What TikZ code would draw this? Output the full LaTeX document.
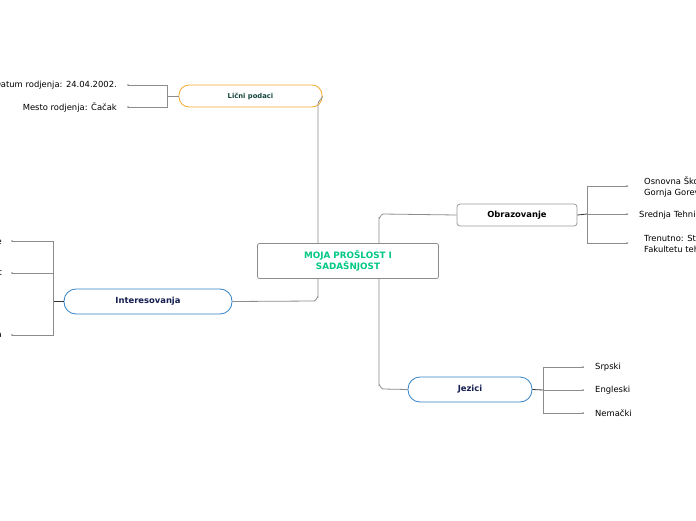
\documentclass[tikz,border=0pt]{standalone}
\usepackage{fontspec}
\setmainfont{DejaVu Sans}
\begin{document}
\begin{tikzpicture}[x=1pt,y=-1pt,
  conn/.style={draw=gray!90,line width=0.8pt},
  dotend/.style={fill=gray,draw=none,circle,inner sep=0.7pt},
  leaf/.style={font=\fontsize{8.4}{11}\selectfont,text=black,inner sep=0pt,align=left},
  topic/.style={draw,line width=0.8pt,fill=white,font=\fontsize{8.4}{9}\selectfont\bfseries,inner sep=0pt}]
\useasboundingbox (0,0) rectangle (696,520);
\clip (0,0) rectangle (696,520);
% central
\node[draw=gray!90,line width=0.8pt,rounded corners=2pt,minimum width=181pt,minimum height=35pt,align=center,
  font=\fontsize{8.8}{11}\selectfont\bfseries,text={rgb,255:red,0;green,200;blue,130},inner sep=0pt] (c) at (348,261) {MOJA PROŠLOST I\\SADAŠNJOST};
% topics
\node[topic,draw={rgb,255:red,245;green,170;blue,50},rounded corners=10pt,minimum width=143pt,minimum height=22pt,
  text={rgb,255:red,20;green,70;blue,60},font=\fontsize{6.8}{7}\selectfont\bfseries] (lp) at (250.5,96) {Lični podaci};
\node[topic,draw=gray!80,rounded corners=3pt,minimum width=120pt,minimum height=22pt,text=black] (ob) at (517,215) {Obrazovanje};
\node[topic,draw={rgb,255:red,50;green,130;blue,200},rounded corners=12pt,minimum width=168pt,minimum height=25pt,
  text={rgb,255:red,20;green,30;blue,80}] (in) at (148,301.5) {Interesovanja};
\node[topic,draw={rgb,255:red,50;green,130;blue,200},rounded corners=12pt,minimum width=124pt,minimum height=25pt,
  text={rgb,255:red,20;green,30;blue,80}] (je) at (470,389.5) {Jezici};
% central connectors
\draw[conn] (c.north -| 318,0) -- (318,104) to[out=90,in=-90] (lp.east);
\draw[conn] (c.south -| 318,0) -- (318,297) to[out=90,in=0] (314,301) -- (in.east);
\draw[conn] (c.north -| 379,0) -- (379,218) to[out=-90,in=180] (383,214) -- (ob.west);
\draw[conn] (c.south -| 379,0) -- (379,385) to[out=90,in=180] (383,389) -- (je.west);
% Licni children
\coordinate (l1) at (128,85); \coordinate (l2) at (128,107);
\draw[conn] (lp.west) -- (167,96);
\draw[conn] (l1) -- (167,85) -- (167,107) -- (l2);
\node[dotend] at (l1) {}; \node[dotend] at (l2) {};
\node[leaf,anchor=east] (t1) at (117,85) {Datum rodjenja: 24.04.2002.};
\node[leaf,anchor=east] (t2) at (117,107) {Mesto rodjenja: Čačak};
% Obrazovanje children
\coordinate (o1) at (627,186); \coordinate (o2) at (627,214); \coordinate (o3) at (627,243);
\draw[conn,draw=black!80] (ob.east) -- (587,214);
\draw[conn] (o1) -- (587,186) -- (587,243) -- (o3);
\draw[conn] (587,214) -- (o2);
\node[dotend] at (o1) {}; \node[dotend] at (o2) {}; \node[dotend] at (o3) {};
\node[leaf,anchor=west] (s1) at (644,187) {Osnovna Škola\\Gornja Gorevnica};
\node[leaf,anchor=west] (s2) at (639,215) {Srednja Tehnička škola};
\node[leaf,anchor=west] (s3) at (644,244) {Trenutno: Student na\\Fakultetu tehničkih nauka};
% Interesovanja children
\coordinate (i1) at (12,241); \coordinate (i2) at (12,273); \coordinate (i3) at (12,335);
\draw[conn,draw=black!80] (in.west) -- (53,301.5);
\draw[conn] (i1) -- (53,241) -- (53,335) -- (i3);
\draw[conn] (53,273) -- (i2);
\node[dotend] at (i1) {}; \node[dotend] at (i2) {}; \node[dotend] at (i3) {};
\node[leaf,anchor=east] (u1) at (2,241) {Muzike};
\node[leaf,anchor=east] (u2) at (2,273) {Sport};
\node[leaf,anchor=east] (u3) at (2,335) {Programiranja};
% Jezici children
\coordinate (j1) at (583,367); \coordinate (j2) at (583,390); \coordinate (j3) at (583,413);
\draw[conn,draw=black!80] (je.east) -- (543,390);
\draw[conn] (j1) -- (543,367) -- (543,413) -- (j3);
\draw[conn] (543,390) -- (j2);
\node[dotend] at (j1) {}; \node[dotend] at (j2) {}; \node[dotend] at (j3) {};
\node[leaf,anchor=west] (k1) at (595,367) {Srpski};
\node[leaf,anchor=west] (k2) at (595,390) {Engleski};
\node[leaf,anchor=west] (k3) at (595,413) {Nemački};
\end{tikzpicture}
\end{document}
